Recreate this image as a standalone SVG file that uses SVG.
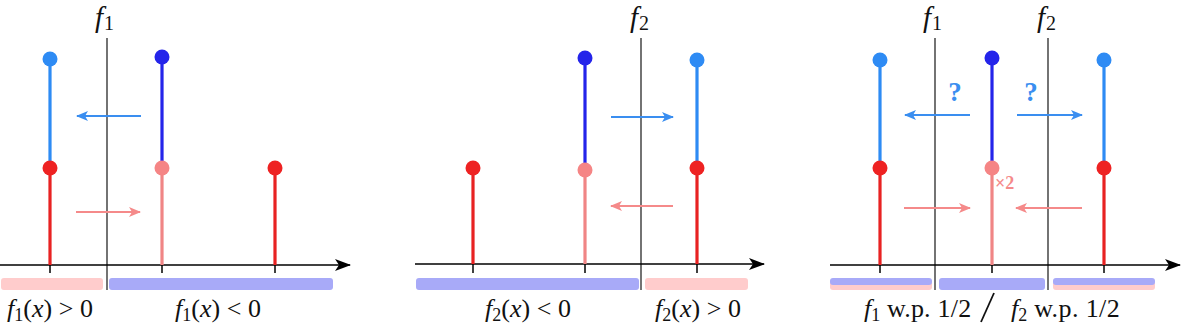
<svg xmlns="http://www.w3.org/2000/svg" width="1182" height="328" viewBox="0 0 1182 328">
<style>
.ax{stroke:#000;stroke-width:1.5;fill:none}
.vl{stroke:#000;stroke-width:1.1;fill:none}
.tk{stroke:#000;stroke-width:1.5}
.sr{stroke:#e82222;stroke-width:3.2}
.sp{stroke:#f08585;stroke-width:3.2}
.sb{stroke:#2e8bf4;stroke-width:3.2}
.sd{stroke:#2424ea;stroke-width:3.2}
.dr{fill:#ee2222}
.dp{fill:#f58585}
.db{fill:#2e8bf4}
.dd{fill:#2424ea}
.ab{stroke:#3a8ef0;stroke-width:2;fill:none;marker-end:url(#mb)}
.ap{stroke:#f58a8a;stroke-width:2;fill:none;marker-end:url(#mp)}
.bp{fill:#ffcccc}
.bb{fill:#a8aaf8}
.t{font-family:"Liberation Serif","DejaVu Serif",serif;fill:#111}
.ti{font-style:italic}
.q{font-family:"Liberation Serif","DejaVu Serif",serif;fill:#3a8ef0;font-weight:bold;font-size:27px}
</style>
<defs>
<marker id="mb" viewBox="0 0 12 10" refX="11" refY="5" markerWidth="6" markerHeight="5" orient="auto" markerUnits="strokeWidth">
<path d="M0,0 L12,5 L0,10 L3,5 Z" fill="#3a8ef0"/>
</marker>
<marker id="mp" viewBox="0 0 12 10" refX="11" refY="5" markerWidth="6" markerHeight="5" orient="auto" markerUnits="strokeWidth">
<path d="M0,0 L12,5 L0,10 L3,5 Z" fill="#f58a8a"/>
</marker>
<marker id="mk" viewBox="0 0 16 12" refX="15" refY="6" markerWidth="11" markerHeight="8" orient="auto" markerUnits="strokeWidth">
<path d="M0,0 L16,6 L0,12 L4,6 Z" fill="#000"/>
</marker>
</defs>

<!-- Panel 1 -->
<g id="panel1">
<g id="p1-bars">
<rect class="bp" x="1" y="278" width="102" height="12" rx="3"/>
<rect class="bb" x="109" y="278" width="224" height="12" rx="3"/>
</g>
<g id="p1-axis">
<line class="ax" x1="0" y1="265" x2="350" y2="265" style="marker-end:url(#mk)"/>
<line class="vl" x1="107" y1="38" x2="107" y2="290"/>
<line class="tk" x1="50" y1="265" x2="50" y2="273"/>
<line class="tk" x1="162" y1="265" x2="162" y2="273"/>
<line class="tk" x1="275" y1="265" x2="275" y2="273"/>
<text class="t" x="95" y="27" font-size="29"><tspan class="ti">f</tspan><tspan font-size="20" dy="3" dx="1">1</tspan></text>
</g>
<g id="p1-s1">
<line class="sr" x1="50" y1="265" x2="50" y2="168"/>
<line class="sb" x1="50" y1="168" x2="50" y2="59"/>
<circle class="db" cx="50" cy="59" r="7.5"/>
<circle class="dr" cx="50" cy="168" r="7.5"/>
</g>
<g id="p1-s2">
<line class="sp" x1="162" y1="265" x2="162" y2="168"/>
<line class="sd" x1="162" y1="168" x2="162" y2="57"/>
<circle class="dd" cx="162" cy="57" r="7.5"/>
<circle class="dp" cx="162" cy="168" r="7.5"/>
</g>
<g id="p1-s3">
<line class="sr" x1="275" y1="265" x2="275" y2="168"/>
<circle class="dr" cx="275" cy="168" r="7.5"/>
</g>
<text class="t" x="50" y="317" font-size="26" text-anchor="middle"><tspan class="ti">f</tspan><tspan font-size="18" dy="4">1</tspan><tspan dy="-4">(</tspan><tspan class="ti">x</tspan><tspan>) &gt; 0</tspan></text>
<text class="t" x="218" y="317" font-size="26" text-anchor="middle"><tspan class="ti">f</tspan><tspan font-size="18" dy="4">1</tspan><tspan dy="-4">(</tspan><tspan class="ti">x</tspan><tspan>) &lt; 0</tspan></text>
</g>

<!-- Panel 2 -->
<g id="panel2">
<g id="p2-bars">
<rect class="bb" x="416" y="278" width="223" height="12" rx="3"/>
<rect class="bp" x="645" y="278" width="103" height="12" rx="3"/>
</g>
<g id="p2-axis">
<line class="ax" x1="415" y1="264" x2="764" y2="264" style="marker-end:url(#mk)"/>
<line class="vl" x1="641" y1="38" x2="641" y2="290"/>
<line class="tk" x1="473" y1="264" x2="473" y2="273"/>
<line class="tk" x1="585" y1="264" x2="585" y2="273"/>
<line class="tk" x1="697" y1="264" x2="697" y2="273"/>
<text class="t" x="630" y="27" font-size="29"><tspan class="ti">f</tspan><tspan font-size="20" dy="3" dx="1">2</tspan></text>
</g>
<g id="p2-s1">
<line class="sr" x1="473" y1="264" x2="473" y2="168"/>
<circle class="dr" cx="473" cy="168" r="7.5"/>
</g>
<g id="p2-s2">
<line class="sp" x1="585" y1="264" x2="585" y2="170"/>
<line class="sd" x1="585" y1="170" x2="585" y2="58"/>
<circle class="dd" cx="585" cy="58" r="7.5"/>
<circle class="dp" cx="585" cy="170" r="7.5"/>
</g>
<g id="p2-s3">
<line class="sr" x1="697" y1="264" x2="697" y2="168"/>
<line class="sb" x1="697" y1="168" x2="697" y2="60"/>
<circle class="db" cx="697" cy="60" r="7.5"/>
<circle class="dr" cx="697" cy="168" r="7.5"/>
</g>
<text class="t" x="528" y="317" font-size="26" text-anchor="middle"><tspan class="ti">f</tspan><tspan font-size="18" dy="4">2</tspan><tspan dy="-4">(</tspan><tspan class="ti">x</tspan><tspan>) &lt; 0</tspan></text>
<text class="t" x="698" y="317" font-size="26" text-anchor="middle"><tspan class="ti">f</tspan><tspan font-size="18" dy="4">2</tspan><tspan dy="-4">(</tspan><tspan class="ti">x</tspan><tspan>) &gt; 0</tspan></text>
</g>

<!-- Panel 3 -->
<g id="panel3">
<g id="p3-bars">
<rect class="bp" x="830" y="281" width="102" height="9" rx="3"/>
<rect class="bb" x="830" y="278" width="102" height="7" rx="3"/>
<rect class="bb" x="939" y="278" width="106" height="12" rx="3"/>
<rect class="bp" x="1053" y="281" width="102" height="9" rx="3"/>
<rect class="bb" x="1053" y="278" width="102" height="7" rx="3"/>
</g>
<g id="p3-axis">
<line class="ax" x1="830" y1="265" x2="1180" y2="265" style="marker-end:url(#mk)"/>
<line class="vl" x1="935" y1="38" x2="935" y2="290"/>
<line class="vl" x1="1048" y1="38" x2="1048" y2="290"/>
<line class="tk" x1="880" y1="265" x2="880" y2="273"/>
<line class="tk" x1="992" y1="265" x2="992" y2="273"/>
<line class="tk" x1="1104" y1="265" x2="1104" y2="273"/>
<text class="t" x="923" y="27" font-size="29"><tspan class="ti">f</tspan><tspan font-size="20" dy="3" dx="1">1</tspan></text>
<text class="t" x="1037" y="27" font-size="29"><tspan class="ti">f</tspan><tspan font-size="20" dy="3" dx="1">2</tspan></text>
</g>
<g id="p3-s1">
<line class="sr" x1="880" y1="265" x2="880" y2="168"/>
<line class="sb" x1="880" y1="168" x2="880" y2="60"/>
<circle class="db" cx="880" cy="60" r="7.5"/>
<circle class="dr" cx="880" cy="168" r="7.5"/>
</g>
<g id="p3-s2">
<line class="sp" x1="992" y1="265" x2="992" y2="168"/>
<line class="sd" x1="992" y1="168" x2="992" y2="58"/>
<circle class="dd" cx="992" cy="58" r="7.5"/>
<circle class="dp" cx="992" cy="168" r="7.5"/>
<text x="995" y="189" font-family="Liberation Serif, DejaVu Serif, serif" font-size="18" font-weight="bold" fill="#f58a8a">×2</text>
</g>
<g id="p3-s3">
<line class="sr" x1="1104" y1="265" x2="1104" y2="168"/>
<line class="sb" x1="1104" y1="168" x2="1104" y2="60"/>
<circle class="db" cx="1104" cy="60" r="7.5"/>
<circle class="dr" cx="1104" cy="168" r="7.5"/>
</g>
<text class="q" x="955" y="101" text-anchor="middle">?</text>
<text class="q" x="1031" y="101" text-anchor="middle">?</text>
<text class="t" x="864" y="317" font-size="26"><tspan class="ti">f</tspan><tspan font-size="18" dy="4">1</tspan><tspan dy="-4" letter-spacing="0.2"> w.p. 1/2</tspan></text>
<line x1="994" y1="293" x2="981" y2="322" stroke="#111" stroke-width="1.8"/>
<text class="t" x="1011" y="317" font-size="26"><tspan class="ti">f</tspan><tspan font-size="18" dy="4">2</tspan><tspan dy="-4" letter-spacing="0.4"> w.p. 1/2</tspan></text>
</g>

<!-- Connectors -->
<g id="connectors">
<line class="ab" x1="141" y1="116" x2="77" y2="116"/>
<line class="ap" x1="76" y1="212" x2="140" y2="212"/>
<line class="ab" x1="611" y1="117" x2="673" y2="117"/>
<line class="ap" x1="673" y1="206" x2="611" y2="206"/>
<line class="ab" x1="970" y1="115" x2="905" y2="115"/>
<line class="ab" x1="1017" y1="115" x2="1082" y2="115"/>
<line class="ap" x1="904" y1="208" x2="970" y2="208"/>
<line class="ap" x1="1082" y1="208" x2="1016" y2="208"/>
</g>
</svg>
